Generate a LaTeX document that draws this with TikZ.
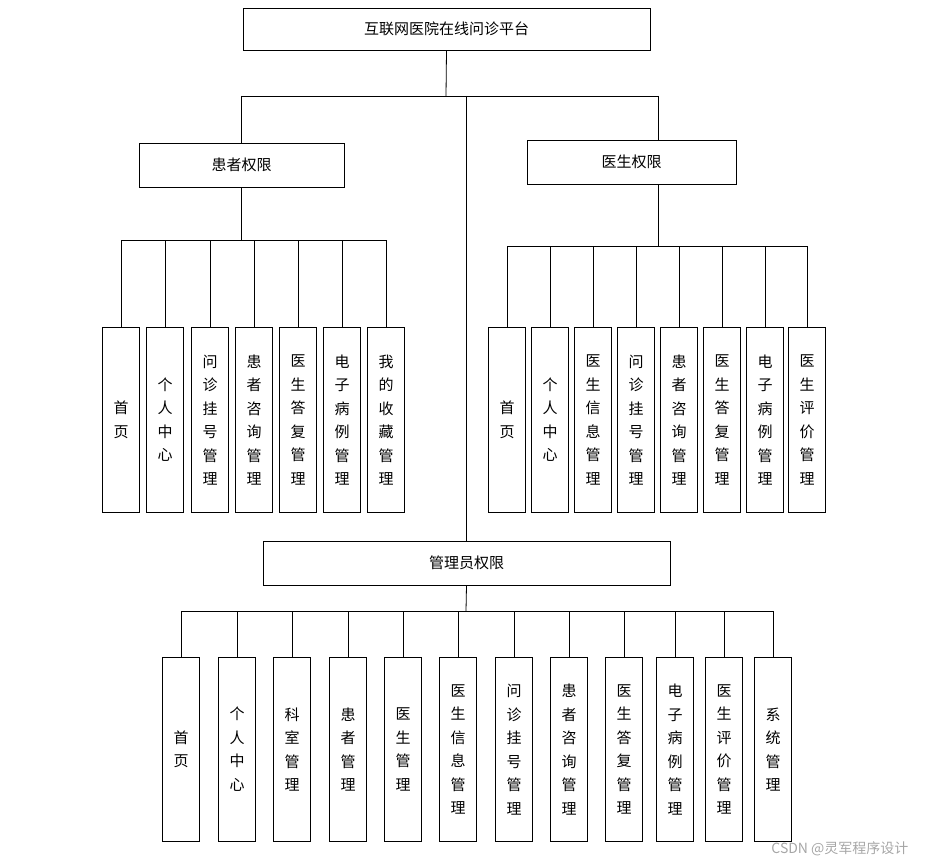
\documentclass[tikz,border=0pt]{standalone}
\usepackage{fontspec}
\setmainfont{Noto Sans CJK SC}
\begin{document}
\begin{tikzpicture}[x=1pt,y=-1pt,
  box/.style={draw,line width=0.8pt,inner sep=0pt,font=\fontsize{15}{18}\selectfont},
  leaf/.style={draw,line width=0.8pt,minimum width=37pt,minimum height=185pt,anchor=north,inner sep=0pt,align=center,font=\fontsize{15}{23.5}\selectfont},
  ln/.style={line width=0.8pt}]
\useasboundingbox (0,0) rectangle (927,867);
\node[box,minimum width=407pt,minimum height=42pt] (root) at (446.5,29) {互联网医院在线问诊平台};
\node[box,minimum width=205pt,minimum height=44pt] (pat) at (241.5,165) {患者权限};
\node[box,minimum width=209pt,minimum height=44pt] (doc) at (631.5,162) {医生权限};
\node[box,minimum width=407pt,minimum height=44pt] (adm) at (466.5,563) {管理员权限};
\coordinate (j) at (446,96);
\draw[ln] (root.south) -- (j);
\draw[ln] (241,96) -- (658,96);
\draw[ln] (241,96) -- (241,143);
\draw[ln] (658,96) -- (658,140);
\draw[ln] (466,96) -- (466,541);
% patient
\draw[ln] (241,187) -- (241,240);
\draw[ln] (121,240) -- (386,240);
\foreach \x/\t [count=\i] in {121/首\\页,165/个\\人\\中\\心,210/问\\诊\\挂\\号\\管\\理,254/患\\者\\咨\\询\\管\\理,298/医\\生\\答\\复\\管\\理,342/电\\子\\病\\例\\管\\理,386/我\\的\\收\\藏\\管\\理}{
  \node[leaf] (p\i) at (\x,327) {\t};
  \draw[ln] (\x,240) -- (p\i.north);
}
% doctor
\draw[ln] (658,184) -- (658,246);
\draw[ln] (507,246) -- (807,246);
\foreach \x/\t [count=\i] in {507/首\\页,550/个\\人\\中\\心,593/医\\生\\信\\息\\管\\理,636/问\\诊\\挂\\号\\管\\理,679/患\\者\\咨\\询\\管\\理,722/医\\生\\答\\复\\管\\理,765/电\\子\\病\\例\\管\\理,807/医\\生\\评\\价\\管\\理}{
  \node[leaf] (d\i) at (\x,327) {\t};
  \draw[ln] (\x,246) -- (d\i.north);
}
% admin
\draw[ln] (adm.south) -- (466,611);
\draw[ln] (181,611) -- (773,611);
\foreach \x/\t [count=\i] in {181/首\\页,237/个\\人\\中\\心,292/科\\室\\管\\理,348/患\\者\\管\\理,403/医\\生\\管\\理,458/医\\生\\信\\息\\管\\理,514/问\\诊\\挂\\号\\管\\理,569/患\\者\\咨\\询\\管\\理,624/医\\生\\答\\复\\管\\理,675/电\\子\\病\\例\\管\\理,724/医\\生\\评\\价\\管\\理,773/系\\统\\管\\理}{
  \node[leaf,minimum height=184pt] (a\i) at (\x,657) {\t};
  \draw[ln] (\x,611) -- (a\i.north);
}
\node[text=gray!70,font=\fontsize{14}{16}\selectfont,anchor=east] (wm) at (912,849) {CSDN @灵军程序设计};
\end{tikzpicture}
\end{document}
